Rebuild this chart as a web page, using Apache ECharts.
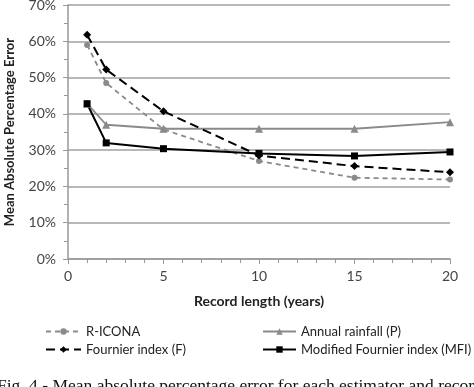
<!DOCTYPE html>
<html><head><meta charset="utf-8">
<script src="https://cdn.jsdelivr.net/npm/echarts@6/dist/echarts.min.js"></script>
<style>html,body{margin:0;padding:0;background:#fff}#c{width:474px;height:387px}</style>
</head><body><div id="c"></div>
<script>
var years = [1, 2, 5, 10, 15, 20];
var rIcona = [59.0, 48.5, 35.7, 27.0, 22.4, 21.9];
var annualRainfall = [42.8, 37.0, 35.9, 35.9, 35.9, 37.7];
var fournier = [61.8, 52.2, 40.7, 28.5, 25.6, 23.9];
var mfi = [42.8, 32.0, 30.4, 29.1, 28.4, 29.5];
var seriesNames = ['R-ICONA', 'Annual rainfall (P)', 'Fournier index (F)', 'Modified Fournier index (MFI)'];
var caption = 'Fig. 4 - Mean absolute percentage error for each estimator and record';

function pairs(v){ return years.map(function(x,i){ return [x, v[i]/100]; }); }
var font = 'Lato, Open Sans, sans-serif';
var gray = '#8a8a8a';
var chart = echarts.init(document.getElementById('c'));
var legendText = {fontFamily: font, fontSize: 13, color: '#222'};
chart.setOption({
  animation: false,
  backgroundColor: '#fff',
  grid: {left: 68, right: 24, top: 5, bottom: 128, containLabel: false, outerBoundsMode: 'none'},
  xAxis: {
    type: 'value', min: 0, max: 20, interval: 5,
    name: 'Record length (years)', nameLocation: 'middle', nameGap: 35,
    nameTextStyle: {fontFamily: font, fontWeight: 'bold', fontSize: 14, color: '#222'},
    axisLine: {lineStyle: {color: '#999', width: 1.5}},
    axisTick: {show: true, length: 5, lineStyle: {color: '#999'}},
    minorTick: {show: true, splitNumber: 5, length: 4, lineStyle: {color: '#999'}},
    splitLine: {show: false},
    axisLabel: {fontFamily: font, fontSize: 14, color: '#444', margin: 10}
  },
  yAxis: {
    type: 'value', min: 0, max: 0.7, interval: 0.1,
    name: 'Mean Absolute Percentage Error', nameLocation: 'middle', nameGap: 52,
    nameTextStyle: {fontFamily: font, fontWeight: 'bold', fontSize: 13, color: '#222'},
    axisLine: {show: true, lineStyle: {color: '#999', width: 1.5}},
    axisTick: {show: true, length: 5, lineStyle: {color: '#999'}},
    minorTick: {show: true, splitNumber: 2, length: 4, lineStyle: {color: '#999'}},
    splitLine: {show: true, lineStyle: {color: '#a0a0a0', width: 1.5}},
    axisLabel: {fontFamily: font, fontSize: 14, color: '#444', margin: 12,
      formatter: function(v){ return Math.round(v*100) + '%'; }}
  },
  legend: [
    {data: [seriesNames[0], seriesNames[2]], orient: 'vertical', left: 45, top: 325, itemGap: 5,
     itemWidth: 35, itemHeight: 8, padding: 0, textStyle: legendText},
    {data: [seriesNames[1], seriesNames[3]], orient: 'vertical', left: 262, top: 325, itemGap: 5,
     itemWidth: 33, itemHeight: 8, padding: 0, textStyle: legendText}
  ],
  graphic: [{type: 'text', left: -3, top: 377,
    style: {text: caption, font: '17.5px "Liberation Serif", serif', fill: '#111'}}],
  series: [
    {name: seriesNames[0], type: 'line', data: pairs(rIcona), symbol: 'circle', symbolSize: 6,
     color: gray, lineStyle: {color: gray, width: 1.8, type: [5, 4]}, itemStyle: {color: gray}},
    {name: seriesNames[1], type: 'line', data: pairs(annualRainfall), symbol: 'triangle', symbolSize: 8,
     color: gray, lineStyle: {color: gray, width: 1.8}, itemStyle: {color: gray}},
    {name: seriesNames[2], type: 'line', data: pairs(fournier), symbol: 'diamond', symbolSize: 8,
     color: '#000', lineStyle: {color: '#000', width: 2, type: [9, 5]}, itemStyle: {color: '#000'}},
    {name: seriesNames[3], type: 'line', data: pairs(mfi), symbol: 'rect', symbolSize: 7,
     color: '#000', lineStyle: {color: '#000', width: 2}, itemStyle: {color: '#000'}}
  ]
});
</script></body></html>
